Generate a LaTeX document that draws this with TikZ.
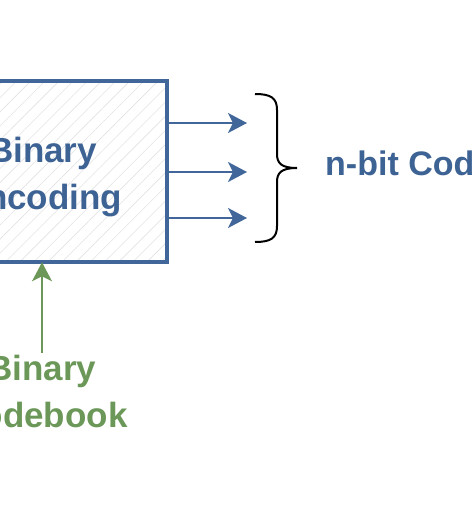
\documentclass[tikz,border=0pt]{standalone}
\usepackage{fontspec}
\setmainfont{Liberation Sans}
\usetikzlibrary{arrows.meta,patterns.meta}
\definecolor{CodeBlue}{HTML}{3D6294}
\definecolor{EdgeBlue}{HTML}{41679A}
\definecolor{BookGreen}{HTML}{6B9858}
\definecolor{HatchGrey}{HTML}{E2E2E6}
\begin{document}
\begin{tikzpicture}[x=1pt,y=-1pt,>={Stealth[length=19pt,width=20pt,inset=5pt]},every node/.style={font=\fontsize{35}{47}\selectfont\bfseries,align=center,inner sep=0pt}]
\path[use as bounding box,clip](0,0)rectangle(474,522);
% encoder block, cut by the left edge
\node[draw=EdgeBlue,line width=3.5pt,pattern={Lines[angle=45,distance=10pt,line width=.6pt]},pattern color=HatchGrey,minimum width=249pt,minimum height=181pt,text=CodeBlue](enc)at(42.5,171.5){\rule{0pt}{36pt}Binary\\Encoding};
\coordinate(o1)at(247,123);\coordinate(o2)at(247,172);\coordinate(o3)at(247,218);
\draw[->,EdgeBlue,line width=2pt](enc.east|-o1)--(o1);\draw[->,EdgeBlue,line width=2pt](enc.east|-o2)--(o2);\draw[->,EdgeBlue,line width=2pt](enc.east|-o3)--(o3);
\draw[line width=2pt](255,94)..controls(271,94)and(277,98)..(277,110)--(277,154)..controls(277,163)and(281,168)..(297,168)..controls(281,168)and(277,173)..(277,182)--(277,226)..controls(277,238)and(271,242)..(255,242);
\node[text=CodeBlue,anchor=base west,font=\fontsize{34}{40}\selectfont\bfseries](code)at(325,175){n-bit Code};
% codebook input
\node[text=BookGreen,anchor=north](book)at(42,355){Binary\\Codebook};
\draw[->,BookGreen,line width=2pt,shorten <=2pt](book.north)--(book.north|-enc.south);
\end{tikzpicture}
\end{document}
